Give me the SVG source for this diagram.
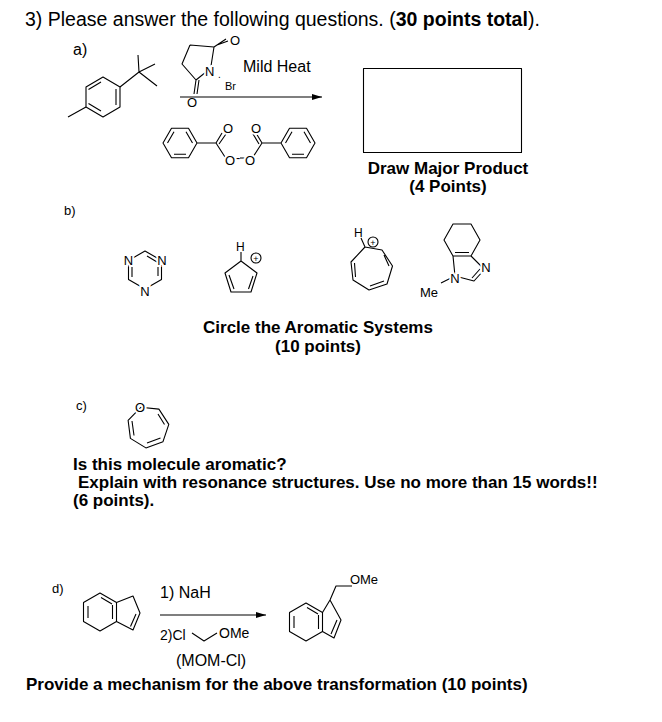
<svg xmlns="http://www.w3.org/2000/svg" width="662" height="722" viewBox="0 0 662 722">
<style>
text{font-family:"Liberation Sans",Arial,sans-serif;fill:#000}
.b{stroke:#000;stroke-width:1.1;fill:none;stroke-linejoin:round}
.t{font-size:16px}
.q{font-size:17px;font-weight:bold}
.a{font-size:13px;paint-order:stroke;stroke:#fff;stroke-width:4px}
.s{font-size:11px;paint-order:stroke;stroke:#fff;stroke-width:3px}
</style>
<defs><marker id="ah" markerWidth="10" markerHeight="6" refX="10" refY="3" orient="auto" markerUnits="userSpaceOnUse"><path d="M0,0 L10,3 L0,6 z" fill="#000"/></marker></defs>
<rect width="662" height="722" fill="#fff"/>
<text x="25" y="26" font-size="19.5">3) Please answer the following questions. (<tspan font-weight="bold">30 points total</tspan>).</text>
<text x="73" y="55" class="t">a)</text>
<g id="a-sm" class="b">
<polygon points="120,87 120,107 103,117 86,107 86,87 103,77"/>
<path d="M116,89 L116,105 M88.5,103.5 L101,111 M101,82 L88.5,89.5 M86,107 L68,117 M120,87 L139,72 M139,72 L138,55 M139,72 L155,64 M139,72 L157,86"/>
</g>
<g id="nbs">
<path class="b" d="M190,45 L182,64 L196,80 M190,45 L214,47 L211,66 M214,47 L226,39 M217,45 L228,41 M196,80 L206,72 M196,80 L194,94 M199,80 L197,94"/>
<text x="230" y="45" class="a">O</text>
<text x="205" y="76" class="a">N</text>
<text x="187" y="107" class="a">O</text>
<text x="218" y="78" font-size="10">.</text>
<text x="225" y="90" class="s" font-size="13">Br</text>
<text x="243" y="72" class="t">Mild Heat</text>
</g>
<g id="connectors">
<line x1="180" y1="97" x2="322" y2="97" class="b" marker-end="url(#ah)"/>
<line x1="160" y1="615" x2="266" y2="615" class="b" marker-end="url(#ah)"/>
</g>
<g id="bpo">
<path class="b" d="M197,143 L188.5,128.3 L171.5,128.3 L163,143 L171.5,157.7 L188.5,157.7 Z M192.5,143 L186,131.7 M174,154.3 L186,154.3 M167.5,143 L174,131.7 M197,143 L216,143 L222,133 M216,143 L225,157 M219,144 L226,134 M229,158 L232,158 M240,158 L249,158 M253,157 L262,143 L256,133 M262,143 L281,143 M259,144 L253,134 M281,143 L289.5,128.3 L306.5,128.3 L315,143 L306.5,157.7 L289.5,157.7 Z M304,131.7 L310.5,143 M292,154.3 L304,154.3 M285.5,143 L292,131.7"/>
<text x="223" y="133" class="a">O</text>
<text x="251" y="133" class="a">O</text>
<text x="225" y="165" class="a">O</text>
<text x="236" y="162" font-size="13">-</text>
<text x="245" y="165" class="a">O</text>
</g>
<g id="box"><rect x="363.5" y="68.5" width="158" height="84" class="b"/>
<text x="448" y="174" class="q" text-anchor="middle">Draw Major Product</text>
<text x="448" y="192" class="q" text-anchor="middle">(4 Points)</text></g>
<text x="64" y="215" font-size="13">b)</text>
<g id="triazine">
<path class="b" d="M145,251 L161.5,260.5 L161.5,279.5 L145,289 L128.5,279.5 L128.5,260.5 Z M147,256 L157,262 M158,266 L158,276 M132,277 L132,265"/>
<text x="128.5" y="265" class="a" text-anchor="middle">N</text>
<text x="162" y="265" class="a" text-anchor="middle">N</text>
<text x="145" y="296" class="a" text-anchor="middle">N</text>
</g>
<g id="cp">
<path class="b" d="M241,261 L257,273 L251,292 L231,292 L225,273 Z M241,261 L241,252 M229,275 L234,289 M253,276 L248.5,289"/>
<text x="236" y="251" font-size="12">H</text>
<circle cx="256" cy="258" r="5" class="b" stroke-width="0.8"/><text x="256" y="261.5" font-size="9" text-anchor="middle">+</text>
</g>
<g id="tropylium">
<path class="b" d="M365,247 L382,250 L392.5,266 L387,284 L369,290 L353,280 L351,262 Z M365,247 L361,238 M384,255 L389,266 M384,281 L370,286 M355.5,277 L354.5,263"/>
<text x="354" y="237" font-size="12">H</text>
<circle cx="373" cy="242" r="5" class="b" stroke-width="0.8"/><text x="373" y="245.5" font-size="9" text-anchor="middle">+</text>
</g>
<g id="imid">
<path class="b" d="M453,224 L471,224 L480,240 L471,256 L453,256 L444,240 Z M455,252.5 L469,252.5 M471,256 L483,268 M453,256 L455,276 L474,281 L484,270 M472,278 L480,269 M455,276 L441,283"/>
<text x="486" y="272" class="a" text-anchor="middle">N</text>
<text x="455" y="283" class="a" text-anchor="middle">N</text>
<text x="420" y="297" font-size="13">Me</text>
</g>
<text x="318" y="333" class="q" text-anchor="middle">Circle the Aromatic Systems</text>
<text x="318" y="352" class="q" text-anchor="middle">(10 points)</text>
<text x="76" y="410" font-size="13">c)</text>
<g id="oxepine">
<path class="b" d="M140.8,407.3 L158.9,409.1 L168.8,424.4 L163,441.7 L145.9,447.9 L130.4,438.4 L128.1,420.3 Z M158,414 L164.5,424.5 M160.5,438 L147,443 M134,435.5 L132,421"/>
<text x="140" y="412" class="a" text-anchor="middle">O</text>
</g>
<text x="73" y="470" class="q">Is this molecule aromatic?</text>
<text x="78" y="488" class="q">Explain with resonance structures. Use no more than 15 words!!</text>
<text x="73" y="506" class="q">(6 points).</text>
<text x="52" y="593" font-size="13">d)</text>
<g id="indene">
<path class="b" d="M100,593 L116.5,602.5 L116.5,621.5 L100,631 L83.5,621.5 L83.5,602.5 Z M101,597.5 L112,604 M112.5,605 L112.5,619 M88,618 L88,606 M116.5,602.5 L133,596 L140,613 L133,630 L116.5,621.5 M136,614 L130.5,626.5"/>
</g>
<text x="160" y="598" class="t">1) NaH</text>
<text x="160" y="640" font-size="14">2)Cl</text>
<path class="b" d="M192,633 L204,641 L217,633"/>
<text x="219" y="638" font-size="14">OMe</text>
<text x="176" y="666" class="t">(MOM-Cl)</text>
<g id="product">
<path class="b" d="M306,603 L322.5,612.5 L322.5,631.5 L306,641 L289.5,631.5 L289.5,612.5 Z M307,607.5 L318,614 M318.5,615 L318.5,629 M294,628 L294,616 M322.5,612.5 L330,600 L341,620 L334,638 L322.5,631.5 M337,620 L331,634 M330,600 L336,586 L352,586"/>
<text x="364" y="584" font-size="13" text-anchor="middle">OMe</text>
</g>
<text x="26" y="690" class="q">Provide a mechanism for the above transformation (10 points)</text>
</svg>
